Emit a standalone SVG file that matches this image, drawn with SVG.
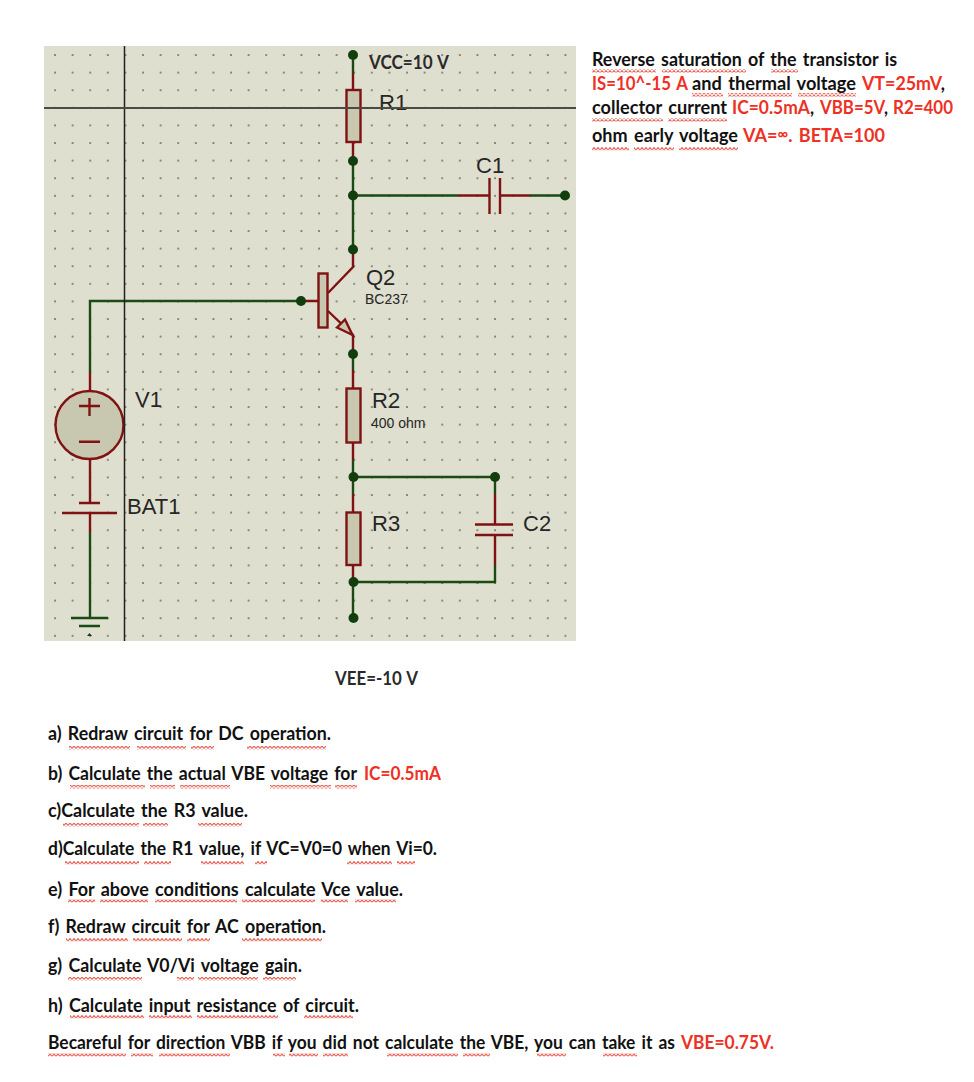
<svg xmlns="http://www.w3.org/2000/svg" width="974" height="1082" viewBox="0 0 974 1082">
<style>
.r{stroke:#7f1212;stroke-width:2.400;fill:none}
.g{stroke:#1b4a12;stroke-width:2.400;fill:none}
.b{fill:#c8c8b0;stroke:#7f1212;stroke-width:2.400}
.d{fill:#123e0e}
.a{font-family:"Liberation Sans",Arial,sans-serif;fill:#262626;font-size:22px}
.s{font-size:14px}
.v{font-family:Lato,Carlito,"Open Sans",sans-serif;font-weight:700;font-size:18px;fill:#2a2a2a;word-spacing:1px}
.t{font-family:Lato,Carlito,"Open Sans",sans-serif;font-weight:700;font-size:18.500px;fill:#111;word-spacing:2px}
.e{fill:#ee3124}
.k{fill:#111}
.w{fill:url(#wave)}
</style>
<defs>
<pattern id="dots" patternUnits="userSpaceOnUse" x="46.2" y="46.2" width="17.6" height="17.6"><rect x="8.1" y="8.1" width="1.5" height="1.5" fill="#4a4d40"/></pattern>
<pattern id="wave" patternUnits="userSpaceOnUse" x="0" y="0" width="4" height="3.500"><path d="M0 3L2 .6L4 3" fill="none" stroke="#e2493c" stroke-width="1"/></pattern>
</defs>
<rect width="974" height="1082" fill="#fff"/>
<g id="sheet">
<rect x="44" y="46" width="532" height="595" fill="#dfdfd0"/>
<rect x="44" y="46" width="532" height="595" fill="url(#dots)"/>
</g>
<g id="connectors">
<path class="g" d="M353 55V73M353 160V250M353 195.500H458M530 195.500H565M353 354V370M353 460V494M353 477H495V494M495 565V582H353M353 582V618M90 372V301H301M90 532V618"/>
<path class="r" d="M353 73V90M353 142V160M353 250V267L328 293M301 301H318M328 311L353 335V354M353 370V388M353 442V460M353 494V512M353 565V582M495 494V524M495 535V565M458 195.500H489M500 195.500H530M90 372V391M90 459V503M90 513V532"/>
<g class="d"><circle cx="353" cy="55" r="5"/><circle cx="353" cy="161" r="5"/><circle cx="353" cy="195.500" r="5"/><circle cx="565" cy="195.500" r="5"/><circle cx="353" cy="249.500" r="5"/><circle cx="301" cy="301" r="5"/><circle cx="353" cy="354" r="5"/><circle cx="353.500" cy="477" r="5"/><circle cx="495" cy="477" r="5"/><circle cx="353.500" cy="582" r="5"/><circle cx="353.500" cy="618" r="5"/></g>
</g>
<g id="R1"><rect class="b" x="346.500" y="90" width="14" height="52"/><text class="a" x="379" y="110">R1</text></g>
<g id="C1"><path class="r" d="M489.500 178V214M500 178V214"/><text class="a" x="476" y="173">C1</text></g>
<g id="Q2"><rect class="b" x="318.500" y="273.500" width="9" height="54"/><path class="b" d="M337 327.500L345 319.500L352.500 335Z"/><text class="a" x="366" y="285">Q2</text><text class="a s" x="365" y="304">BC237</text></g>
<g id="R2"><rect class="b" x="346.500" y="388.500" width="14" height="54"/><text class="a" x="372" y="408">R2</text><text class="a s" x="371" y="428">400 ohm</text></g>
<g id="R3"><rect class="b" x="346.500" y="512.500" width="14" height="52.500"/><text class="a" x="372" y="531">R3</text></g>
<g id="C2"><path class="r" d="M475 524.500H513M475 535H513"/><text class="a" x="523" y="531">C2</text></g>
<g id="V1"><circle class="b" cx="89.500" cy="425" r="34"/><path class="r" d="M79 406H100M89.500 398V416M79 441.700H100"/><text class="a" x="135" y="407">V1</text></g>
<g id="BAT1"><path class="r" d="M79 503H100M62 513H117"/><text class="a" x="127" y="514">BAT1</text></g>
<g id="GND"><path class="g" d="M71 618H108M79 626H100"/><path class="d" d="M87 636L89.500 633L92 636Z"/></g>
<g id="axes"><path d="M124.500 46V641" stroke="#222" stroke-width="1.500"/><path d="M44 108H576" stroke="#4a4b42" stroke-width="2"/></g>
<text class="v" id="VCC" x="369" y="69" textLength="80" lengthAdjust="spacingAndGlyphs">VCC=10 V</text>
<text class="v" id="VEE" x="335" y="685" textLength="83" lengthAdjust="spacingAndGlyphs">VEE=-10 V</text>
<g id="given">
<text class="t" x="592" y="66" textLength="305" lengthAdjust="spacingAndGlyphs">Reverse saturation of the transistor is</text>
<text class="t e" x="592" y="90" textLength="96" lengthAdjust="spacingAndGlyphs">IS=10^-15 A</text>
<text class="t" x="692" y="90" textLength="164" lengthAdjust="spacingAndGlyphs">and thermal voltage</text>
<text class="t e" x="862" y="90" textLength="83" lengthAdjust="spacingAndGlyphs">VT=25mV<tspan class="k">,</tspan></text>
<text class="t" x="592" y="114" textLength="135" lengthAdjust="spacingAndGlyphs">collector current</text>
<text class="t e" x="732" y="114" textLength="82" lengthAdjust="spacingAndGlyphs">IC=0.5mA<tspan class="k">,</tspan></text>
<text class="t e" x="820" y="114" textLength="68" lengthAdjust="spacingAndGlyphs">VBB=5V<tspan class="k">,</tspan></text>
<text class="t e" x="893" y="114" textLength="60" lengthAdjust="spacingAndGlyphs">R2=400</text>
<text class="t" x="592" y="142" textLength="146" lengthAdjust="spacingAndGlyphs">ohm early voltage</text>
<text class="t e" x="743" y="142" textLength="142" lengthAdjust="spacingAndGlyphs">VA=<tspan font-size="15" dy="-3">∞</tspan><tspan dy="3">. BETA=100</tspan></text>
</g>
<g id="questions">
<text class="t" x="48" y="740" textLength="283" lengthAdjust="spacingAndGlyphs">a) Redraw circuit for DC operation.</text>
<text class="t" x="48" y="780" textLength="309" lengthAdjust="spacingAndGlyphs">b) Calculate the actual VBE voltage for</text>
<text class="t e" x="364" y="780" textLength="77" lengthAdjust="spacingAndGlyphs">IC=0.5mA</text>
<text class="t" x="48" y="817" textLength="200" lengthAdjust="spacingAndGlyphs">c)Calculate the R3 value.</text>
<text class="t" x="48" y="855" textLength="389" lengthAdjust="spacingAndGlyphs">d)Calculate the R1 value, if VC=V0=0 when Vi=0.</text>
<text class="t" x="48" y="896" textLength="355" lengthAdjust="spacingAndGlyphs">e) For above conditions calculate Vce value.</text>
<text class="t" x="48" y="933" textLength="278" lengthAdjust="spacingAndGlyphs">f) Redraw circuit for AC operation.</text>
<text class="t" x="48" y="972" textLength="254" lengthAdjust="spacingAndGlyphs">g) Calculate V0/Vi voltage gain.</text>
<text class="t" x="48" y="1012" textLength="311" lengthAdjust="spacingAndGlyphs">h) Calculate input resistance of circuit.</text>
<text class="t" x="48" y="1049" textLength="627" lengthAdjust="spacingAndGlyphs">Becareful for direction VBB if you did not calculate the VBE, you can take it as</text>
<text class="t e" x="681" y="1049" textLength="93" lengthAdjust="spacingAndGlyphs">VBE=0.75V.</text>
</g>
<g id="spellcheck" class="w">
<rect x="592" y="69" width="64" height="3.500"/><rect x="662" y="69" width="84" height="3.500"/><rect x="771" y="69" width="27" height="3.500"/>
<rect x="692" y="93" width="31" height="3.500"/><rect x="728" y="93" width="64" height="3.500"/><rect x="798" y="93" width="58" height="3.500"/>
<rect x="592" y="118" width="71" height="3.500"/><rect x="668" y="118" width="59" height="3.500"/>
<rect x="592" y="147" width="37" height="3.500"/><rect x="634" y="147" width="40" height="3.500"/><rect x="679" y="147" width="59" height="3.500"/>
<rect x="69" y="746" width="61" height="3.500"/><rect x="137" y="746" width="49" height="3.500"/><rect x="191" y="746" width="23" height="3.500"/><rect x="247" y="746" width="79" height="3.500"/>
<rect x="70" y="785" width="75" height="3.500"/><rect x="150" y="785" width="25" height="3.500"/><rect x="180" y="785" width="50" height="3.500"/><rect x="270" y="785" width="61" height="3.500"/><rect x="335" y="785" width="22" height="3.500"/>
<rect x="63" y="823" width="76" height="3.500"/><rect x="143" y="823" width="25" height="3.500"/><rect x="198" y="823" width="44" height="3.500"/>
<rect x="65" y="861" width="74" height="3.500"/><rect x="144" y="861" width="27" height="3.500"/><rect x="201" y="861" width="43" height="3.500"/><rect x="255" y="861" width="12" height="3.500"/><rect x="347" y="861" width="45" height="3.500"/><rect x="397" y="861" width="18" height="3.500"/>
<rect x="68" y="899" width="27" height="3.500"/><rect x="100" y="899" width="48" height="3.500"/><rect x="155" y="899" width="82" height="3.500"/><rect x="242" y="899" width="73" height="3.500"/><rect x="321" y="899" width="27" height="3.500"/><rect x="355" y="899" width="41" height="3.500"/>
<rect x="66" y="938" width="62" height="3.500"/><rect x="133" y="938" width="49" height="3.500"/><rect x="187" y="938" width="23" height="3.500"/><rect x="242" y="938" width="80" height="3.500"/>
<rect x="68" y="977" width="74" height="3.500"/><rect x="177" y="977" width="17" height="3.500"/><rect x="198" y="977" width="60" height="3.500"/><rect x="263" y="977" width="33" height="3.500"/>
<rect x="70" y="1015" width="74" height="3.500"/><rect x="149" y="1015" width="43" height="3.500"/><rect x="197" y="1015" width="81" height="3.500"/><rect x="304" y="1015" width="49" height="3.500"/>
<rect x="48" y="1053" width="78" height="3.500"/><rect x="131" y="1053" width="22" height="3.500"/><rect x="159" y="1053" width="71" height="3.500"/><rect x="273" y="1053" width="12" height="3.500"/><rect x="289" y="1053" width="29" height="3.500"/><rect x="323" y="1053" width="25" height="3.500"/><rect x="387" y="1053" width="71" height="3.500"/><rect x="463" y="1053" width="27" height="3.500"/><rect x="537" y="1053" width="29" height="3.500"/><rect x="603" y="1053" width="34" height="3.500"/>
</g>
</svg>
